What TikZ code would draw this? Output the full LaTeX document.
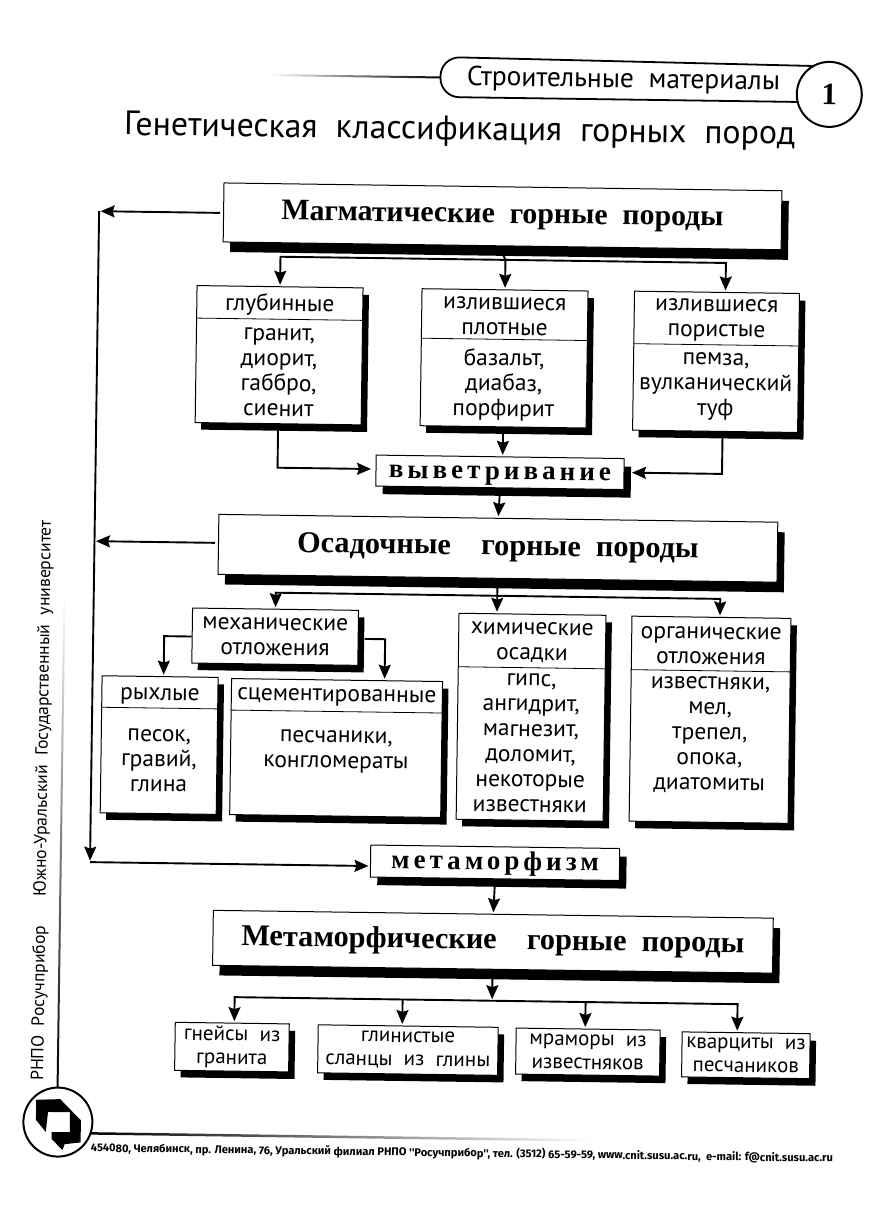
\documentclass[tikz,border=0pt]{standalone}
\usepackage{fontspec}
\setmainfont{PT Sans}
\newfontfamily\hd{Liberation Serif}
\newfontfamily\hdsp[LetterSpace=15]{Liberation Serif}
\newfontfamily\ft{Fira Sans}
\usetikzlibrary{shadows,calc,arrows.meta,positioning}
\tikzset{
 bx/.style={draw=black,line width=1pt,fill=white,inner sep=0pt,drop shadow={shadow xshift=6pt,shadow yshift=-7pt,fill=black,opacity=1}},
 bxb/.style={draw=black,line width=1pt,fill=white,inner sep=0pt,drop shadow={shadow xshift=7pt,shadow yshift=-10pt,fill=black,opacity=1}},
 bxm/.style={draw=black,line width=1pt,fill=white,inner sep=0pt,drop shadow={shadow xshift=7pt,shadow yshift=-8pt,fill=black,opacity=1}},
 ln/.style={line width=1.9pt,draw=black},
 ar/.style={ln,shorten >=1.5pt,-{Stealth[length=14pt,width=12pt,inset=2pt]}},
 lbl/.style={inner sep=0pt,align=center,font=\fontsize{23.5}{25.2}\selectfont},
 sml/.style={inner sep=0pt,align=center,font=\fontsize{21}{23.5}\selectfont},
 big/.style={inner sep=0pt,font=\fontsize{30.3}{32}\hd\bfseries},
 mid/.style={inner sep=0pt,font=\fontsize{27}{28}\hdsp\bfseries},
}
\newcommand{\cbox}[9]{%
 \node[bx,minimum width=#4pt,minimum height=#5pt] (#1) at (#2,#3) {};
 \draw[line width=0.8pt] ($(#1.north west)+(0,#6)$) -- ($(#1.north east)+(0,#6)$);
 \node[lbl,anchor=center] (#1h) at ($(#1.north)+(0,#6/2+2)$) {#7};
 \node[lbl,anchor=north] (#1b) at ($(#1.north)+(0,#6+#9)$) {#8};
}
\begin{document}
\begin{tikzpicture}[x=1pt,y=-1pt]
\useasboundingbox (0,0) rectangle (882,1228);
\fill[white] (0,0) rectangle (882,1228);
\begin{scope}[transform canvas={rotate around={-0.8:(441,614)}}]
% header
\shade[left color=white,right color=black] (260,76.5) rectangle (433,78.5);
\draw[line width=1.8pt,fill=white,rounded corners=19pt] (823,61) -- (433,57) -- (433,97) -- (823,97);
\node[inner sep=0pt,font=\fontsize{27.5}{30}\selectfont] (sub) at (616,78) {Строительные\ \ материалы};
\node[draw,line width=2pt,fill=white,circle,minimum size=65pt,inner sep=0pt,font=\fontsize{31}{32}\hd\bfseries] (one) at (822,89) {1};
\node[inner sep=0pt,font=\fontsize{33.8}{36}\selectfont] (title) at (453,131) {Генетическая\ \ классификация\ \ горных\ \ пород};
% main boxes
\node[bxb,minimum width=558pt,minimum height=59pt,big,font=\fontsize{29.8}{32}\hd\bfseries] (mag) at (497,215.5) {Магматические\ \ горные\ \ породы};
\cbox{glub}{275.5}{357.5}{166}{137}{33}{глубинные}{гранит,\\диорит,\\габбро,\\сиенит}{9}
\cbox{plot}{500.5}{357.5}{166}{137}{50}{излившиеся\\плотные}{базальт,\\диабаз,\\порфирит}{9}
\cbox{por}{712.5}{358}{165}{139}{53}{излившиеся\\пористые}{пемза,\\вулканический\\туф}{8}
\node[bxm,minimum width=248pt,minimum height=31pt,mid] (vyv) at (498,471.5) {\raisebox{-7pt}[0pt][0pt]{выветривание}};
\node[bxb,minimum width=559pt,minimum height=60pt,big] (osa) at (497,547.5) {Осадочные\quad горные\ \ породы};
\node[bx,minimum width=166pt,minimum height=55pt,lbl] (meh) at (275.5,639) {механические\\отложения};
\cbox{ryh}{161}{749}{116}{137}{32}{\raisebox{-6pt}[0pt][0pt]{рыхлые}}{песок,\\гравий,\\глина}{21}
\cbox{cem}{338}{749.5}{211}{136}{32}{сцементированные}{песчаники,\\конгломераты}{19}
\cbox{him}{532.5}{716}{147}{206}{54}{химические\\осадки}{гипс,\\ангидрит,\\магнезит,\\доломит,\\некоторые\\известняки}{6}
\cbox{org}{711.5}{716}{159}{205}{54}{органические\\отложения}{известняки,\\мел,\\трепел,\\опока,\\диатомиты}{6}
\node[bxm,minimum width=249pt,minimum height=32pt,mid] (met) at (498.5,862) {\raisebox{-7pt}[0pt][0pt]{метаморфизм}};
\node[bxb,minimum width=560pt,minimum height=55pt,big] (mrf) at (497.5,941) {Метаморфические\quad горные\ \ породы};
\node[bx,minimum width=114pt,minimum height=48pt,sml] (gne) at (238,1050) {гнейсы\ \ из\\гранита};
\node[bx,minimum width=180pt,minimum height=48pt,sml] (gli) at (414,1050.5) {глинистые\\сланцы\ \ из\ \ глины};
\node[bx,minimum width=144pt,minimum height=46pt,sml] (mra) at (594,1050) {мраморы\ \ из\\известняков};
\node[bx,minimum width=128pt,minimum height=45pt,sml] (kva) at (752,1051) {кварциты\ \ из\\песчаников};
% connectors: Magma
\coordinate (b1) at (500.5,259);
\coordinate (b1r) at (721,259);
\draw[ln] (mag.south) ++(0,6) -- (b1);
\draw[ar] (b1) -| (glub.north);
\draw[ar] (b1) -- (plot.north);
\draw[ar] (b1) -- (b1r) -- (b1r |- por.north);
\coordinate (g1) at (275.5,470);
\draw[ar] (glub.south) -- (g1) -- ([xshift=-3pt]vyv.west |- g1);
\draw[ar] (plot.south) ++(0,6) -- (plot.south |- vyv.north);
\coordinate (p1) at (720,470);
\draw[ar] (p1 |- por.south) ++(0,6) -- (p1) -- ([xshift=6pt]vyv.east |- p1);
\draw[ar] (vyv.south) ++(0,6) -- (osa.north);
% Sediment
\coordinate (b2) at (497,595);
\coordinate (b2l) at (275.5,595);
\coordinate (b2r) at (720,595);
\draw[ln] (osa.south) ++(0,6) -- (b2);
\draw[ar] (b2) -- (b2l) -- (meh.north);
\draw[ar] (b2) -- (b2 |- him.north);
\draw[ar] (b2) -- (b2r) -- (b2r |- org.north);
\coordinate (m1) at (164.5,640);
\draw[ar] (meh.west |- m1) -- (m1) -- (m1 |- ryh.north);
\coordinate (m2) at (385.5,640);
\draw[ar] ([xshift=6pt]meh.east |- m2) -- (m2) -- (m2 |- cem.north);
% Left spine
\coordinate (s1) at (93.5,216);
\coordinate (s2) at (93.5,867);
\coordinate (s3) at (93.5,546);
\draw[ar] ([xshift=-3pt]mag.west |- s1) -- (s1);
\draw[ar] ([xshift=-3pt]osa.west |- s3) -- (s3);
\draw[ar] (s1) -- (s2);
\draw[ar] (s2) -- (met.west |- s2);
% Metamorphic
\draw[ar] (met.south) ++(0,6) -- (mrf.north);
\coordinate (b3) at (497.5,1000);
\draw[ar] (mrf.south) ++(0,8) -- (b3);
\coordinate (c1) at (240,1000);
\coordinate (c2) at (408,1000);
\coordinate (c3) at (591,1000);
\coordinate (c4) at (743,1000);
\draw[ar] (b3) -- (c1) -- (c1 |- gne.north);
\draw[ar] (c2) -- (c2 |- gli.north);
\draw[ar] (c3) -- (c3 |- mra.north);
\draw[ar] (b3) -- (c4) -- (c4 |- kva.north);
% frame
\shade[top color=white,bottom color=black] (63.2,600) rectangle (65.2,1095);
\shade[left color=black,right color=white] (95,1137) rectangle (600,1139.5);
\node[draw,line width=2pt,fill=white,circle,minimum size=69pt,inner sep=0pt] (logo) at (65,1127.4) {};
\fill ($(logo)+(-22,-22)$) -- ++(24,-1) -- ++(21,21) -- ++(0,22) -- ++(-16,2) -- ++(-2,6) -- ++(-11,-11) -- ++(0,-7) -- ++(18,0) -- ++(0,-20) -- ++(-22,0) -- ++(-2,20) -- ++(-10,-12) -- cycle;
\node[inner sep=0pt,rotate=90,font=\fontsize{17.6}{18}\selectfont] (vt) at (45,806) {РНПО\ \ Росучприбор\hspace{1.7em}Южно-Уральский\ \ Государственный\ \ университет};
\node[inner sep=0pt,font=\fontsize{11.1}{12}\ft\bfseries] (ftr) at (469.5,1153) {454080, Челябинск, пр. Ленина, 76, Уральский филиал РНПО ''Росучприбор'', тел. (3512) 65-59-59, www.cnit.susu.ac.ru,\ \ e-mail: f@cnit.susu.ac.ru};
\end{scope}
\end{tikzpicture}
\end{document}
